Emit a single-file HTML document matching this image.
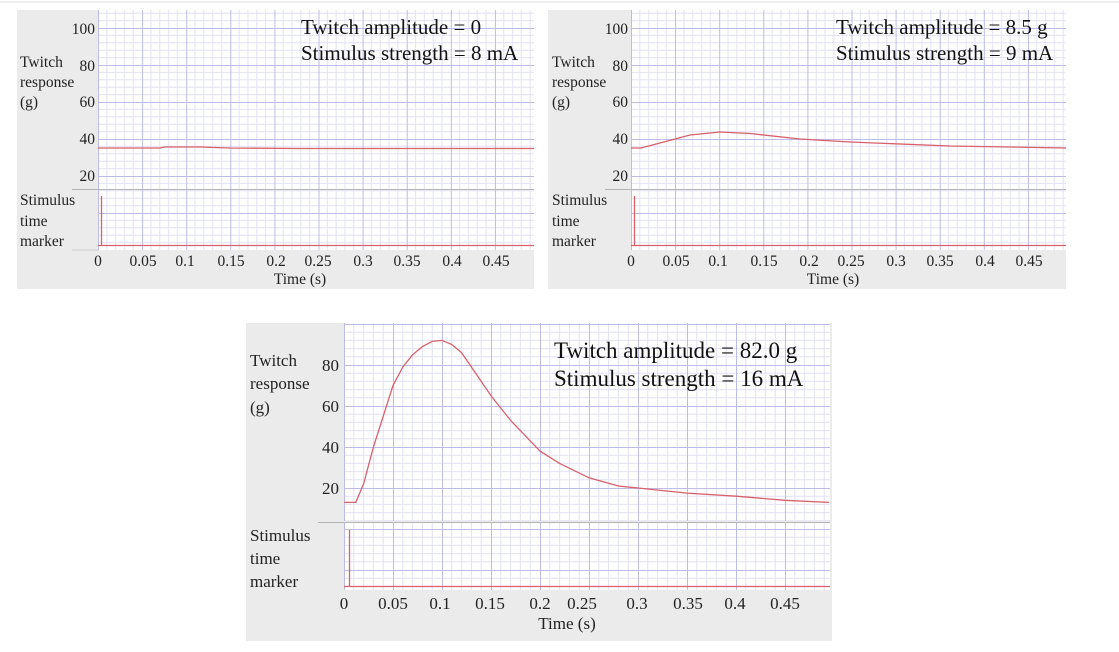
<!DOCTYPE html>
<html><head><meta charset="utf-8"><style>
html,body{margin:0;padding:0;background:#fff;}
svg{display:block;font-family:"Liberation Serif",serif;}
</style></head><body>
<svg width="1119" height="652" viewBox="0 0 1119 652">
<defs>
<pattern id="g1" patternUnits="userSpaceOnUse" x="98" y="28" width="44.1" height="37">
<rect width="44.1" height="37" fill="#fff"/>
<g stroke="#e2e2f4" stroke-width="1">
<line x1="8.82" y1="0" x2="8.82" y2="37"/><line x1="17.64" y1="0" x2="17.64" y2="37"/><line x1="26.46" y1="0" x2="26.46" y2="37"/><line x1="35.28" y1="0" x2="35.28" y2="37"/>
<line x1="0" y1="7.4" x2="44.1" y2="7.4"/><line x1="0" y1="14.8" x2="44.1" y2="14.8"/><line x1="0" y1="22.2" x2="44.1" y2="22.2"/><line x1="0" y1="29.6" x2="44.1" y2="29.6"/>
</g>
<line x1="0.5" y1="0" x2="0.5" y2="37" stroke="#bcbce6"/><line x1="0" y1="0.5" x2="44.1" y2="0.5" stroke="#bcbce6"/>
</pattern>
<pattern id="g2" patternUnits="userSpaceOnUse" x="631" y="28" width="44.1" height="37">
<rect width="44.1" height="37" fill="#fff"/>
<g stroke="#e2e2f4" stroke-width="1">
<line x1="8.82" y1="0" x2="8.82" y2="37"/><line x1="17.64" y1="0" x2="17.64" y2="37"/><line x1="26.46" y1="0" x2="26.46" y2="37"/><line x1="35.28" y1="0" x2="35.28" y2="37"/>
<line x1="0" y1="7.4" x2="44.1" y2="7.4"/><line x1="0" y1="14.8" x2="44.1" y2="14.8"/><line x1="0" y1="22.2" x2="44.1" y2="22.2"/><line x1="0" y1="29.6" x2="44.1" y2="29.6"/>
</g>
<line x1="0.5" y1="0" x2="0.5" y2="37" stroke="#bcbce6"/><line x1="0" y1="0.5" x2="44.1" y2="0.5" stroke="#bcbce6"/>
</pattern>
<pattern id="g3" patternUnits="userSpaceOnUse" x="344" y="365" width="49" height="41">
<rect width="49" height="41" fill="#fff"/>
<g stroke="#e2e2f4" stroke-width="1">
<line x1="9.8" y1="0" x2="9.8" y2="41"/><line x1="19.6" y1="0" x2="19.6" y2="41"/><line x1="29.4" y1="0" x2="29.4" y2="41"/><line x1="39.2" y1="0" x2="39.2" y2="41"/>
<line x1="0" y1="8.2" x2="49" y2="8.2"/><line x1="0" y1="16.4" x2="49" y2="16.4"/><line x1="0" y1="24.6" x2="49" y2="24.6"/><line x1="0" y1="32.8" x2="49" y2="32.8"/>
</g>
<line x1="0.5" y1="0" x2="0.5" y2="41" stroke="#bcbce6"/><line x1="0" y1="0.5" x2="49" y2="0.5" stroke="#bcbce6"/>
</pattern>
</defs>
<line x1="0" y1="2" x2="1119" y2="2" stroke="#ddd"/>

<!-- Panel 1 -->
<rect x="17" y="10" width="517" height="279" fill="#ebebeb"/>
<rect x="98" y="10" width="436" height="179" fill="url(#g1)"/>
<rect x="98" y="190" width="436" height="60" fill="url(#g1)"/>
<line x1="72" y1="189.5" x2="534" y2="189.5" stroke="#b4b4b4" stroke-width="1"/>
<line x1="72" y1="250" x2="98" y2="250" stroke="#ccc"/>
<path d="M98,148 L160,148 L165,147 L200,147 L230,148 L300,148.5 L400,148.5 L534,148.5" fill="none" stroke="#d9606a" stroke-width="1.3"/>
<path d="M98,245.5 L101.5,245.5 L101.5,196 L101.5,245.5 L534,245.5" fill="none" stroke="#d9606a" stroke-width="1.3"/>
<g font-size="21" fill="#111"><text x="301" y="34">Twitch amplitude = 0</text><text x="301" y="60">Stimulus strength = 8 mA</text></g>
<g font-size="15.5" fill="#222" text-anchor="end"><text x="95" y="34">100</text><text x="95" y="71">80</text><text x="95" y="107">60</text><text x="95" y="144">40</text><text x="95" y="181">20</text></g>
<g font-size="15.5" fill="#222"><text x="20" y="67">Twitch</text><text x="20" y="87">response</text><text x="20" y="107">(g)</text>
<text x="20" y="205">Stimulus</text><text x="20" y="226">time</text><text x="20" y="246">marker</text></g>
<g font-size="15.5" fill="#222" text-anchor="middle"><text x="98" y="266">0</text><text x="143" y="266">0.05</text><text x="185" y="266">0.1</text><text x="231" y="266">0.15</text><text x="276" y="266">0.2</text><text x="318" y="266">0.25</text><text x="363" y="266">0.3</text><text x="407" y="266">0.35</text><text x="452" y="266">0.4</text><text x="496" y="266">0.45</text><text x="300" y="284">Time (s)</text></g>

<!-- Panel 2 -->
<rect x="548" y="10" width="518" height="279" fill="#ebebeb"/>
<rect x="631" y="10" width="435" height="179" fill="url(#g2)"/>
<rect x="631" y="190" width="435" height="60" fill="url(#g2)"/>
<line x1="605" y1="189.5" x2="1066" y2="189.5" stroke="#b4b4b4" stroke-width="1"/>
<path d="M631,148 L641,148 L660,143 L690,135 L720,132 L750,133.5 L800,139 L850,142 L950,146 L1066,148" fill="none" stroke="#d9606a" stroke-width="1.3"/>
<path d="M631,245.5 L634.5,245.5 L634.5,196 L634.5,245.5 L1066,245.5" fill="none" stroke="#d9606a" stroke-width="1.3"/>
<g font-size="21" fill="#111"><text x="836" y="34">Twitch amplitude = 8.5 g</text><text x="836" y="60">Stimulus strength = 9 mA</text></g>
<g font-size="15.5" fill="#222" text-anchor="end"><text x="628" y="34">100</text><text x="628" y="71">80</text><text x="628" y="107">60</text><text x="628" y="144">40</text><text x="628" y="181">20</text></g>
<g font-size="15.5" fill="#222"><text x="552" y="67">Twitch</text><text x="552" y="87">response</text><text x="552" y="107">(g)</text>
<text x="552" y="205">Stimulus</text><text x="552" y="226">time</text><text x="552" y="246">marker</text></g>
<g font-size="15.5" fill="#222" text-anchor="middle"><text x="631" y="266">0</text><text x="676" y="266">0.05</text><text x="718" y="266">0.1</text><text x="764" y="266">0.15</text><text x="809" y="266">0.2</text><text x="851" y="266">0.25</text><text x="896" y="266">0.3</text><text x="940" y="266">0.35</text><text x="985" y="266">0.4</text><text x="1029" y="266">0.45</text><text x="833" y="284">Time (s)</text></g>

<!-- Panel 3 -->
<rect x="246" y="323" width="586" height="318" fill="#ebebeb"/>
<rect x="344" y="323" width="486" height="198" fill="url(#g3)"/>
<rect x="344" y="523" width="486" height="67" fill="url(#g3)"/>
<line x1="318" y1="522.5" x2="830" y2="522.5" stroke="#b4b4b4" stroke-width="1"/>
<path d="M344,502.4 L355.8,502.4 L363.6,483.9 L373.4,447 L383.2,416.3 L393,385.5 L402.8,367 L412.6,354.8 L422.4,346.6 L432.2,341.4 L442,340.4 L451.8,344.5 L461.6,352.7 L471.4,367 L481.2,381.4 L491,395.8 L510.6,420.4 L540,451.1 L559.6,463.4 L589,477.8 L618.4,486 L638,488 L687,493.1 L736,496.2 L785,500.3 L829,502.4" fill="none" stroke="#d9606a" stroke-width="1.3"/>
<path d="M344,586.5 L349.5,586.5 L349.5,530 L349.5,586.5 L830,586.5" fill="none" stroke="#d9606a" stroke-width="1.3"/>
<g font-size="23" fill="#111"><text x="554" y="358">Twitch amplitude = 82.0 g</text><text x="554" y="386">Stimulus strength = 16 mA</text></g>
<g font-size="17" fill="#222" text-anchor="end"><text x="339" y="371">80</text><text x="339" y="412">60</text><text x="339" y="453">40</text><text x="339" y="494">20</text></g>
<g font-size="17" fill="#222"><text x="250" y="366">Twitch</text><text x="250" y="389">response</text><text x="250" y="413">(g)</text>
<text x="250" y="541">Stimulus</text><text x="250" y="564">time</text><text x="250" y="587">marker</text></g>
<g font-size="17" fill="#222" text-anchor="middle"><text x="344" y="609">0</text><text x="393" y="609">0.05</text><text x="440" y="609">0.1</text><text x="490" y="609">0.15</text><text x="540" y="609">0.2</text><text x="582" y="609">0.25</text><text x="637" y="609">0.3</text><text x="688" y="609">0.35</text><text x="735" y="609">0.4</text><text x="785" y="609">0.45</text><text x="567" y="629">Time (s)</text></g>
</svg>
</body></html>
